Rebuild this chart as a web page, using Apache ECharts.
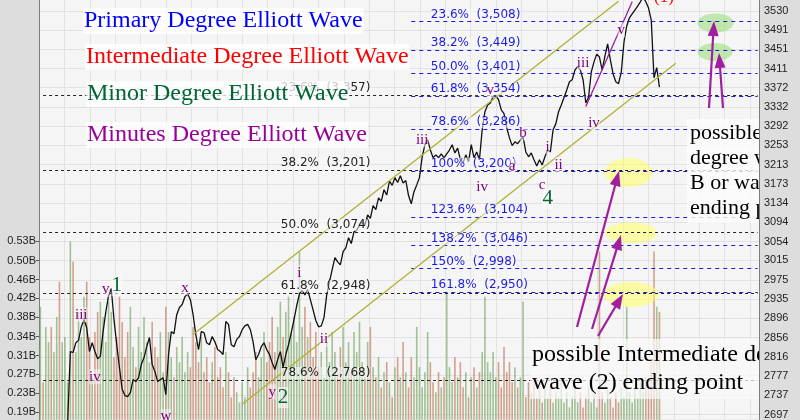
<!DOCTYPE html>
<html><head><meta charset="utf-8">
<script src="https://cdn.jsdelivr.net/npm/echarts@6/dist/echarts.min.js"></script>
<style>html,body{margin:0;padding:0;background:#dddddd}#c{width:800px;height:420px}</style>
</head><body><div id="c"></div>
<script>
// ---------- data ----------
const categories = Array.from({length: 264}, (_, i) => 'D' + (i + 1));

const price = [
 null,null,null,null,null,null,null,null,null,2640,
 2680,2827,2825,2845,2850,2878,2893,2876,2827,2845,
 2827,2812,2817,2868,2909,2942,2957,2893,2841,2794,
 2749,2736,2734,2742,2769,2765,2773,2800,2814,2837,
 2856,2800,2786,2765,2769,2773,2738,2821,2868,2864,
 2903,2918,2924,2940,2946,2934,2903,2862,2831,2868,
 2866,2845,2841,2858,2847,2831,2827,2821,2889,2883,
 2841,2837,2852,2858,2872,2880,2883,2872,2847,2810,
 2821,2837,2845,2831,2821,2804,2790,2810,2827,2794,
 2821,2841,2866,2893,2922,2946,2953,2944,2955,2934,
 2913,2891,2878,2880,2897,2944,2971,2996,3021,3012,
 3006,3033,3041,3062,3050,3074,3078,3087,3095,3088,
 3109,3102,3128,3120,3144,3137,3161,3150,3179,3170,
 3186,3176,3190,3175,3180,3149,3132,3157,3171,3186,
 3229,3254,3264,3243,3227,3233,3227,3235,3227,3235,
 3243,3254,3237,3247,3223,3217,3233,3219,3254,3227,
 3239,3223,3285,3322,3336,3340,3353,3355,3347,3326,
 3318,3289,3268,3252,3260,3256,3264,3270,3239,3229,
 3237,3223,3210,3223,3212,3229,3243,3239,3285,3297,
 3322,3336,3351,3367,3384,3388,3408,3415,3408,3388,
 3340,3352,3404,3425,3441,3435,3408,3437,3462,3429,
 3400,3384,3380,3404,3466,3499,3516,3524,3532,3540,
 3549,3559,3549,3536,3511,3392,3413,3373
];

const volume = [
 0.40,0.25,0.36,0.33,0.36,0.31,0.38,0.45,0.33,0.34,
 0.25,0.53,0.49,0.31,0.39,0.34,0.42,0.45,0.34,0.26,
 0.35,0.39,0.41,0.38,0.33,0.41,0.39,0.30,0.34,0.42,
 0.37,0.30,0.35,0.40,0.32,0.28,0.36,0.31,0.38,0.33,
 0.29,0.37,0.32,0.30,0.35,0.27,0.40,0.35,0.30,0.26,
 0.32,0.29,0.34,0.27,0.31,0.28,0.36,0.33,0.29,0.34,
 0.27,0.30,0.25,0.29,0.32,0.26,0.28,0.24,0.31,0.27,
 0.22,0.26,0.23,0.21,0.25,0.22,0.28,0.24,0.27,0.31,
 0.26,0.30,0.35,0.29,0.33,0.38,0.31,0.36,0.41,0.34,
 0.39,0.42,0.35,0.38,0.33,0.51,0.36,0.40,0.34,0.37,
 0.30,0.35,0.28,0.31,0.26,0.33,0.29,0.35,0.31,0.27,
 0.32,0.36,0.29,0.33,0.27,0.35,0.31,0.37,0.29,0.26,
 0.33,0.36,0.28,0.26,0.30,0.24,0.27,0.29,0.25,0.22,
 0.28,0.30,0.26,0.33,0.27,0.24,0.30,0.26,0.36,0.28,
 0.24,0.27,0.35,0.29,0.25,0.23,0.27,0.24,0.26,0.43,
 0.28,0.25,0.30,0.26,0.29,0.24,0.27,0.22,0.26,0.28,
 0.24,0.27,0.31,0.42,0.29,0.27,0.31,0.26,0.29,0.24,
 0.32,0.27,0.29,0.25,0.28,0.24,0.26,0.41,0.22,0.25,
 0.23,0.26,0.22,0.24,0.21,0.25,0.22,0.24,0.21,0.23,
 0.22,0.25,0.21,0.23,0.20,0.22,0.24,0.21,0.23,0.20,
 0.22,0.24,0.21,0.23,0.20,0.51,0.23,0.21,0.24,0.22,
 0.20,0.23,0.21,0.24,0.22,0.40,0.23,0.21,0.24,0.22,
 0.25,0.23,0.26,0.24,0.29,0.51,0.40,0.39
];

const priceTicks = [2697,2737,2777,2816,2856,2896,2935,2975,3015,3054,3094,3134,3173,3213,3253,3292,3332,3372,3411,3451,3491,3530];
const volTickValues = [0.19,0.228,0.266,0.303,0.341,0.379,0.417,0.454,0.492,0.53];
const volTickLabels = ['0.19B','0.23B','0.27B','0.31B','0.34B','0.38B','0.42B','0.46B','0.50B','0.53B'];

const blackFibPct = ['23.6%','38.2%','50.0%','61.8%','78.6%'];
const blackFibVal = [3357,3201,3074,2948,2768];
const blueFibPct = ['23.6%','38.2%','50.0%','61.8%','78.6%','100%','123.6%','138.2%','150%','161.8%'];
const blueFibVal = [3508,3449,3401,3354,3286,3200,3104,3046,2998,2950];

// wave labels: text, anchor index, anchor price
const minuteText  = ['iii','iv','v','w','x','y','i','ii','iii','v','iv','a','b','c','i','ii','iii','iv','v'];
const minuteIdx   = [15,20,24,46,53,85,95,104,140,165,162,173,177,184,186,190,199,203,213];
const minutePrice = [2903,2775,2955,2693,2959,2744,2990,2852,3264,3366,3167,3210,3278,3171,3250,3212,3423,3299,3491];
const minorText  = ['1','2','4'];
const minorIdx   = [28,89,186];
const minorPrice = [2963,2732,3142];

// channel / trend lines: [idx1, price1, idx2, price2]
const channelUpper = [56,2862,212,3550];
const channelLower = [74,2718,233,3422];
const waveVLine = [200,3333,217,3549];

// ---------- chart ----------
const chart = echarts.init(document.getElementById('c'), null, {renderer:'canvas'});
const GREEN = 'rgba(110,160,90,0.62)', BROWN = 'rgba(185,112,79,0.62)';
const fmt = v => v.toLocaleString('en-US');

function barColor(i){
  const p = price[i], q = price[i-1];
  if (p == null || q == null) return (i % 3 === 1) ? BROWN : GREEN;
  return p >= q ? GREEN : BROWN;
}

const markLines = [];
blackFibVal.forEach(v => markLines.push([{coord:[1,v], lineStyle:{color:'#222', type:[3,3], width:1}}, {coord:[263,v]}]));
blueFibVal.forEach(v => markLines.push([{coord:[136,v], lineStyle:{color:'#1a1ae6', type:[4,4], width:1}}, {coord:[263,v]}]));
[channelUpper, channelLower].forEach(c => markLines.push([{coord:[c[0],c[1]], lineStyle:{color:'#b0b033', type:'solid', width:1.3}}, {coord:[c[2],c[3]]}]));
markLines.push([{coord:[waveVLine[0],waveVLine[1]], lineStyle:{color:'#9a1f9a', type:'solid', width:1.3}}, {coord:[waveVLine[2],waveVLine[3]]}]);

const markPoints = [];
const hidden = {symbol:'circle', symbolSize:1, itemStyle:{color:'rgba(0,0,0,0)'}};
blackFibVal.forEach((v,k) => markPoints.push(Object.assign({coord:[88,v], label:{show:true, position:'right', distance:0, offset:[0,-7],
  formatter: blackFibPct[k] + '  (' + fmt(v) + ')', color:'#222', fontFamily:'DejaVu Sans', fontSize:12,
  backgroundColor:'rgba(248,248,248,0.55)'}}, hidden)));
blueFibVal.forEach((v,k) => markPoints.push(Object.assign({coord:[143,v], label:{show:true, position:'right', distance:0, offset:[0,-7],
  formatter: blueFibPct[k] + '  (' + fmt(v) + ')', color:'#1a1ae6', fontFamily:'DejaVu Sans', fontSize:12,
  backgroundColor:'rgba(248,248,248,0.55)'}}, hidden)));
minuteText.forEach((t,k) => markPoints.push(Object.assign({coord:[minuteIdx[k], minutePrice[k]], label:{show:true, position:'inside',
  formatter:t, color:'#800080', fontFamily:'Liberation Serif', fontSize:15, backgroundColor:'rgba(250,250,250,0.5)'}}, hidden)));
minorText.forEach((t,k) => markPoints.push(Object.assign({coord:[minorIdx[k], minorPrice[k]], label:{show:true, position:'inside',
  formatter:t, color:'#006633', fontFamily:'Liberation Serif', fontSize:21, backgroundColor:'rgba(250,250,250,0.6)'}}, hidden)));

// ---------- annotations ----------
const serif = '"Liberation Serif", "Times New Roman", serif';
const titleBg = 'rgba(255,255,255,0.75)';
const graphics = [
  {type:'text', x:83, y:21, z:10, style:{text:'Primary Degree Elliott Wave', font:'24px '+serif, fill:'#0000ff', verticalAlign:'middle', backgroundColor:titleBg, padding:[1,1]}},
  {type:'text', x:85, y:57, z:10, style:{text:'Intermediate Degree Elliott Wave', font:'24px '+serif, fill:'#ff0000', verticalAlign:'middle', backgroundColor:titleBg, padding:[1,1]}},
  {type:'text', x:86, y:94, z:10, style:{text:'Minor Degree Elliott Wave', font:'24px '+serif, fill:'#006633', verticalAlign:'middle', backgroundColor:titleBg, padding:[1,1]}},
  {type:'text', x:86, y:135, z:10, style:{text:'Minutes Degree Elliott Wave', font:'24px '+serif, fill:'#990099', verticalAlign:'middle', backgroundColor:titleBg, padding:[1,1]}},
  {type:'text', x:687, y:119, z:10, style:{text:'possible Minute\ndegree wave A,\nB or wave C\nending point', font:'22px '+serif, lineHeight:25, fill:'#000', verticalAlign:'top', backgroundColor:'rgba(252,252,252,0.8)', padding:[2,3]}},
  {type:'text', x:530, y:339, z:10, style:{text:'possible Intermediate degree\nwave (2) ending point', font:'24px '+serif, lineHeight:28, fill:'#000', verticalAlign:'top', backgroundColor:'rgba(250,250,250,0.72)', padding:[2,2]}},
  {type:'text', x:664, y:6, z:10, style:{text:'(1)', font:'17px '+serif, fill:'#ff0000', align:'center', verticalAlign:'bottom'}},
  {type:'ellipse', shape:{cx:628.5, cy:172.5, rx:24, ry:14.5}, z:4, style:{fill:'rgba(255,255,100,0.55)'}},
  {type:'ellipse', shape:{cx:631, cy:233, rx:26, ry:10.5}, z:4, style:{fill:'rgba(255,255,100,0.55)'}},
  {type:'ellipse', shape:{cx:631, cy:294.5, rx:27.5, ry:12.5}, z:4, style:{fill:'rgba(255,255,100,0.55)'}},
  {type:'ellipse', shape:{cx:715.5, cy:23, rx:18, ry:9.5}, z:4, style:{fill:'rgba(140,220,100,0.5)'}},
  {type:'ellipse', shape:{cx:715, cy:52, rx:17.5, ry:9}, z:4, style:{fill:'rgba(140,220,100,0.5)'}}
];
const arrows = [[709,108,714,21],[723,108,719,53],[577,327,619,171],[592,329,621,235],[598,336,623,294]];
arrows.forEach(([x1,y1,x2,y2]) => {
  const dx = x2-x1, dy = y2-y1, L = Math.hypot(dx,dy), ux = dx/L, uy = dy/L, hl = 15, hw = 5.5;
  const bx = x2-ux*hl, by = y2-uy*hl;
  graphics.push({type:'line', z:12, shape:{x1:x1, y1:y1, x2:bx+ux*2, y2:by+uy*2}, style:{stroke:'#a01fa0', lineWidth:2.2}});
  graphics.push({type:'polygon', z:12, shape:{points:[[x2,y2],[bx-uy*hw,by+ux*hw],[bx+uy*hw,by-ux*hw]]}, style:{fill:'#a01fa0'}});
});
// right strip cover (clips overflowing notes)
graphics.push({type:'rect', z:20, shape:{x:759.5, y:0, width:41, height:420}, style:{fill:'#dddddd'}});

const option = {
  animation:false,
  backgroundColor:'#dddddd',
  grid:{left:39, right:41, top:0, bottom:0, show:true, backgroundColor:'#f5f5f5', borderWidth:0},
  xAxis:[
    {type:'category', data:categories, boundaryGap:true, axisLabel:{show:false}, axisTick:{show:false}, axisLine:{show:false}, splitLine:{show:false}},
    {type:'value', position:'top', min:0, max:28.35, interval:1, axisLabel:{show:false}, axisTick:{show:false}, axisLine:{show:false},
      splitLine:{show:true, lineStyle:{color:'#e2e2e2', width:1}}}
  ],
  yAxis:[
    {type:'value', position:'right', min:2686.7, max:3552.7, axisLabel:{show:false, customValues:priceTicks}, axisTick:{show:false, customValues:priceTicks},
      axisLine:{show:false}, splitLine:{show:true, lineStyle:{color:'#e2e2e2', width:1}}},
    {type:'value', position:'left', min:0.176, max:1.010, splitLine:{show:false},
      axisLine:{show:true, lineStyle:{color:'#7c7c7c'}},
      axisTick:{show:true, length:3, customValues:volTickValues, lineStyle:{color:'#555'}},
      axisLabel:{customValues:volTickValues, margin:3, color:'#222', fontFamily:'Liberation Sans', fontSize:11,
        formatter: v => { let k = 0; volTickValues.forEach((t,j) => { if (Math.abs(t-v) < Math.abs(volTickValues[k]-v)) k = j; }); return volTickLabels[k]; }}},
    {type:'value', position:'right', min:2686.7, max:3552.7, z:30, splitLine:{show:false},
      axisLine:{show:true, lineStyle:{color:'#7c7c7c'}}, axisTick:{show:false, customValues:priceTicks},
      axisLabel:{customValues:priceTicks, margin:5, color:'#222', fontFamily:'Liberation Sans', fontSize:11,
        formatter: v => String(Math.round(v))}}
  ],
  series:[
    {type:'bar', name:'Volume', xAxisIndex:0, yAxisIndex:1, barWidth:1.6, z:1,
      data: volume.map((v,i) => ({value:v, itemStyle:{color:barColor(i)}}))},
    {type:'line', name:'Price', xAxisIndex:0, yAxisIndex:0, data:price, symbol:'none', showSymbol:false, z:3,
      lineStyle:{color:'#111', width:1.3}, connectNulls:false,
      markLine:{silent:true, symbol:['none','none'], label:{show:false}, animation:false, data:markLines},
      markPoint:{silent:true, animation:false, data:markPoints}}
  ],
  graphic: graphics
};
chart.setOption(option);
</script></body></html>
